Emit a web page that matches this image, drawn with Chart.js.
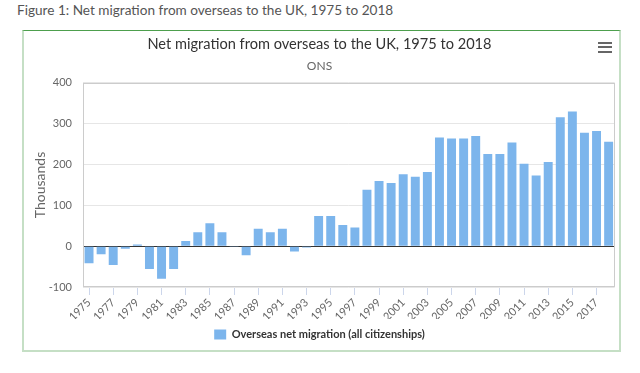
<!DOCTYPE html>
<html>
<head>
<meta charset="utf-8">
<script src="https://cdn.jsdelivr.net/npm/chart.js@4/dist/chart.umd.min.js"></script>
<style>
  html, body { margin: 0; padding: 0; background: #fff; }
  body { width: 640px; height: 373px; position: relative; overflow: hidden; font-family: Lato, sans-serif; }
  #caption { position: absolute; left: 17px; top: 2px; font-size: 13.6px; color: #555; white-space: nowrap; }
  #box { position: absolute; left: 22px; top: 30px; width: 595px; height: 319px;
         border: 2px solid #c5dfc5; border-top: 1px solid #4d9f4d; }
  #wrap { position: absolute; left: 0; top: 0; width: 595px; height: 319px; }
  #menu { position: absolute; left: 574px; top: 11px; width: 14px; }
  #menu span { display: block; height: 2px; background: #666; margin-bottom: 2.3px; }
</style>
</head>
<body>
<div id="caption">Figure 1: Net migration from overseas to the UK, 1975 to 2018</div>
<div id="box">
  <div id="wrap"><canvas id="bar"></canvas></div>
  <div id="menu"><span></span><span></span><span></span></div>
</div>
<script>
const years = ['1975','1976','1977','1978','1979','1980','1981','1982','1983','1984',
  '1985','1986','1987','1988','1989','1990','1991','1992','1993','1994',
  '1995','1996','1997','1998','1999','2000','2001','2002','2003','2004',
  '2005','2006','2007','2008','2009','2010','2011','2012','2013','2014',
  '2015','2016','2017','2018'];

const netMigration = [-42, -20, -46, -6, 4, -56, -80, -56, 13, 34,
  56, 34, -2, -22, 43, 34, 43, -13, -3, 74,
  74, 52, 46, 138, 160, 155, 176, 170, 182, 266,
  264, 264, 270, 226, 226, 254, 202, 173, 206, 316,
  330, 278, 282, 256];

const yTicks = [-100, 0, 100, 200, 300, 400];

Chart.defaults.font.family = 'Lato, sans-serif';
Chart.defaults.animation = false;

// frame around the plot area
const plotBorder = {
  id: 'plotBorder',
  afterDraw(chart) {
    const { ctx, chartArea: a } = chart;
    ctx.save();
    ctx.strokeStyle = '#cccccc';
    ctx.lineWidth = 1;
    ctx.strokeRect(Math.round(a.left) + 0.5, Math.round(a.top) + 0.5,
      Math.round(a.right - a.left) - 1, Math.round(a.bottom - a.top) - 1);
    ctx.restore();
  }
};

const ctx = document.getElementById('bar');

new Chart(ctx, {
  type: 'bar',
  data: {
    labels: years,
    datasets: [{
      label: 'Overseas net migration (all citizenships)',
      data: netMigration,
      backgroundColor: '#7cb5ec',
      borderWidth: 0,
      categoryPercentage: 0.74,
      barPercentage: 1
    }]
  },
  options: {
    responsive: true,
    maintainAspectRatio: false,
    layout: { padding: { left: 0, right: 4, top: 0, bottom: 0 } },
    plugins: {
      title: {
        display: true,
        text: 'Net migration from overseas to the UK, 1975 to 2018',
        color: '#333333',
        font: { size: 14.6, weight: 'normal' },
        padding: { top: 5, bottom: 3 }
      },
      subtitle: {
        display: true,
        text: 'ONS',
        color: '#666666',
        font: { size: 12 },
        padding: { top: 2, bottom: 10 }
      },
      legend: {
        position: 'bottom',
        labels: {
          color: '#333333',
          font: { size: 11, weight: 'bold' },
          boxWidth: 12,
          boxHeight: 10,
          padding: 10
        }
      },
      tooltip: { enabled: false }
    },
    scales: {
      x: {
        grid: {
          display: true,
          drawOnChartArea: false,
          drawTicks: true,
          tickLength: 8,
          offset: false,
          color: c => (c.index % 2 === 0 ? '#ccd6eb' : 'rgba(0,0,0,0)')
        },
        border: { display: false },
        ticks: {
          autoSkip: false,
          maxRotation: 45,
          minRotation: 45,
          padding: 1,
          color: '#666666',
          font: { size: 11 },
          callback: function (v, i) { return i % 2 === 0 ? this.getLabelForValue(v) : ''; }
        },
        afterFit: s => { s.height = 32; }
      },
      y: {
        min: yTicks[0],
        max: yTicks[yTicks.length - 1],
        afterBuildTicks: s => { s.ticks = yTicks.map(v => ({ value: v })); },
        grid: {
          drawTicks: false,
          color: c => (c.tick.value === 0 ? '#333333' : '#e6e6e6')
        },
        border: { display: false },
        ticks: { padding: 11, color: '#666666', font: { size: 11 } },
        title: {
          display: true,
          text: 'Thousands',
          color: '#666666',
          font: { size: 14 },
          padding: { top: 8, bottom: 0 }
        },
        afterFit: s => { s.width = 59; }
      }
    }
  },
  plugins: [plotBorder]
});
</script>
</body>
</html>
